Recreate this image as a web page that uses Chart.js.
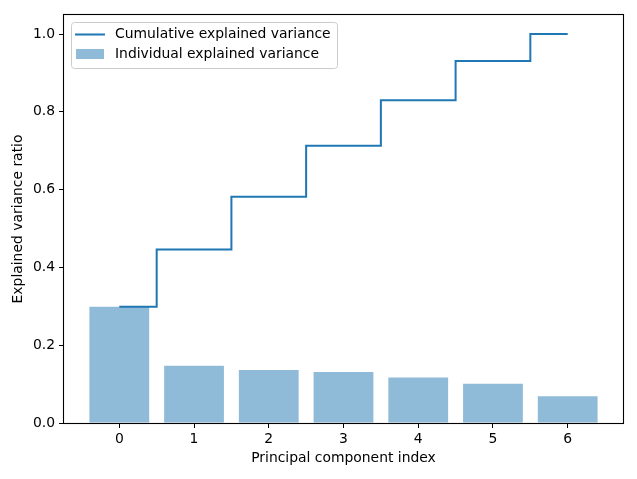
<!DOCTYPE html>
<html>
<head>
<meta charset="utf-8">
<style>
html,body{margin:0;padding:0;background:#fff;}
#wrap{width:637px;height:479px;}
</style>
<script src="https://cdn.jsdelivr.net/npm/chart.js@4.4.1/dist/chart.umd.min.js"></script>
</head>
<body>
<div id="wrap"><canvas id="c" width="637" height="479"></canvas></div>
<script>
const components = [0, 1, 2, 3, 4, 5, 6];
const individualVariance = [0.299, 0.147, 0.136, 0.131, 0.117, 0.101, 0.069];
const cumulativeVariance = [0.299, 0.446, 0.582, 0.713, 0.830, 0.931, 1.0];
const xTickValues = [0, 1, 2, 3, 4, 5, 6];
const yTickValues = [0.0, 0.2, 0.4, 0.6, 0.8, 1.0];

const BLUE = '#1f77b4';
const FONT = 'DejaVu Sans';
const FS = 13.9;

const framePlugin = {
  id: 'frame',
  afterDraw(chart) {
    const {ctx, chartArea: a} = chart;
    ctx.save();
    ctx.strokeStyle = '#000';
    ctx.lineWidth = 1.1;
    const L = Math.round(a.left), T = Math.round(a.top), R = Math.round(a.right), B = Math.round(a.bottom);
    ctx.strokeRect(L - 0.5, T - 0.5, R - L + 1, B - T + 1);
    // legend
    const lx = a.left + 7, ly = a.top + 7, lw = 266, lh = 46;
    ctx.fillStyle = 'rgba(255,255,255,0.8)';
    ctx.strokeStyle = '#cccccc';
    ctx.lineWidth = 1;
    ctx.beginPath();
    ctx.roundRect(lx + 0.5, ly + 0.5, lw, lh, 3);
    ctx.fill();
    ctx.stroke();
    const ds = chart.data.datasets;
    ctx.font = FS + 'px "' + FONT + '"';
    ctx.textBaseline = 'middle';
    ctx.textAlign = 'left';
    ctx.fillStyle = '#000';
    // line handle
    ctx.strokeStyle = BLUE;
    ctx.lineWidth = 2;
    ctx.beginPath();
    ctx.moveTo(lx + 4, ly + 12.5);
    ctx.lineTo(lx + 34, ly + 12.5);
    ctx.stroke();
    ctx.fillText(ds[0].label, lx + 44, ly + 12.5);
    // bar handle
    ctx.fillStyle = 'rgba(31,119,180,0.5)';
    ctx.fillRect(lx + 5, ly + 27, 28, 10);
    ctx.fillStyle = '#000';
    ctx.fillText(ds[1].label, lx + 44, ly + 32);
    ctx.restore();
  }
};

new Chart(document.getElementById('c'), {
  data: {
    datasets: [
      {
        type: 'line',
        label: 'Cumulative explained variance',
        data: components.map((c, i) => ({x: c, y: cumulativeVariance[i]})),
        borderColor: BLUE,
        borderWidth: 2,
        stepped: 'middle',
        pointRadius: 0,
        fill: false,
        order: 0
      },
      {
        type: 'bar',
        label: 'Individual explained variance',
        data: components.map((c, i) => ({x: c, y: individualVariance[i]})),
        backgroundColor: 'rgba(31,119,180,0.5)',
        borderWidth: 0,
        barPercentage: 0.8,
        categoryPercentage: 1.0,
        order: 1
      }
    ]
  },
  options: {
    responsive: false,
    animation: false,
    devicePixelRatio: 1,
    layout: {padding: {top: 15, right: 14, left: 0, bottom: 0}},
    plugins: {legend: {display: false}, tooltip: {enabled: false}},
    scales: {
      x: {
        type: 'linear',
        min: -0.74,
        max: 6.74,
        offset: false,
        afterBuildTicks: s => { s.ticks = xTickValues.map(v => ({value: v})); },
        afterFit: s => { s.height = 56; },
        grid: {display: true, offset: false, drawOnChartArea: false, drawTicks: true, tickLength: 5, tickColor: '#000', tickWidth: 1},
        border: {display: false},
        ticks: {color: '#000', font: {family: FONT, size: FS}, padding: 3, maxRotation: 0,
                callback: v => String(v)},
        title: {display: true, text: 'Principal component index', color: '#000',
                font: {family: FONT, size: FS}, padding: {top: 0, bottom: 12.5}}
      },
      y: {
        type: 'linear',
        min: 0,
        max: 1.049,
        afterBuildTicks: s => { s.ticks = yTickValues.map(v => ({value: v})); },
        afterFit: s => { s.width = 64; },
        grid: {display: true, offset: false, drawOnChartArea: false, drawTicks: true, tickLength: 5, tickColor: '#000', tickWidth: 1},
        border: {display: false},
        ticks: {color: '#000', font: {family: FONT, size: FS}, padding: 4,
                callback: v => Number(v).toFixed(1)},
        title: {display: true, text: 'Explained variance ratio', color: '#000',
                font: {family: FONT, size: FS}, padding: {top: 10, bottom: 0}}
      }
    }
  },
  plugins: [framePlugin]
});
</script>
</body>
</html>
